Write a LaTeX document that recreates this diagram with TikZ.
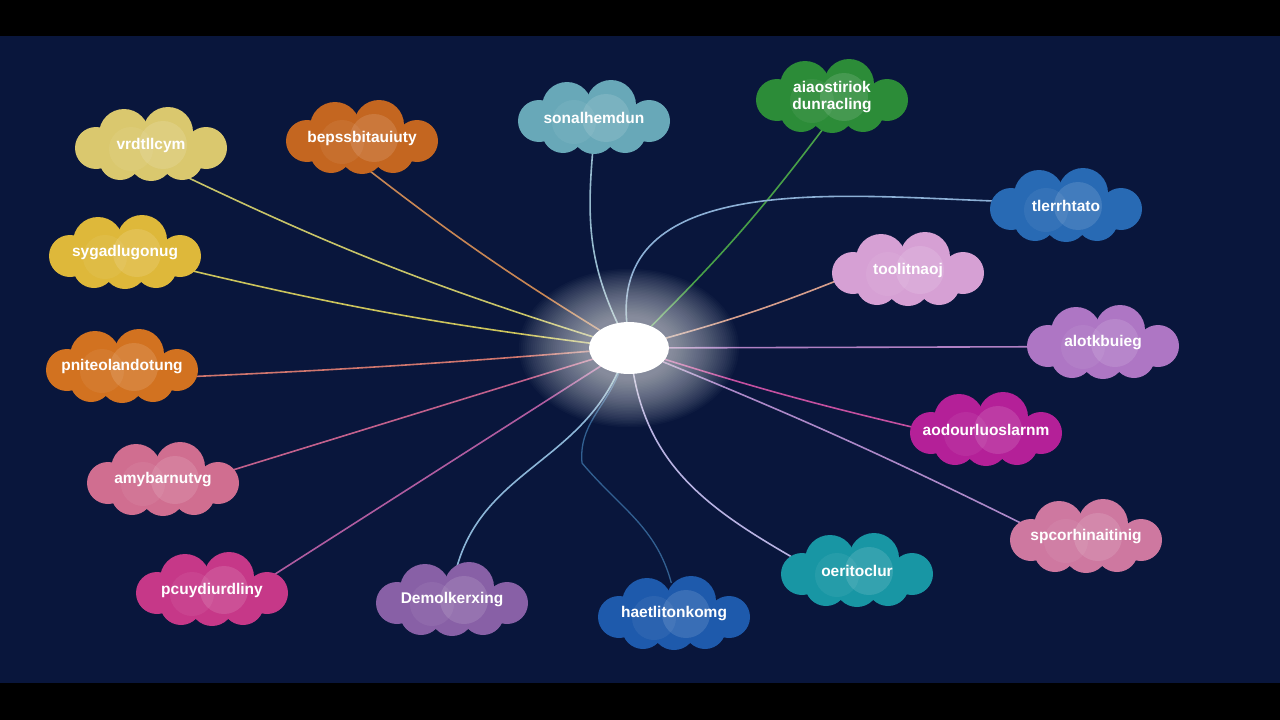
\documentclass[tikz,border=0pt]{standalone}
\usepackage{fontspec}
\setmainfont{Liberation Sans}
\usetikzlibrary{shapes.geometric}
\pgfdeclarelayer{background}
\pgfsetlayers{background,main}
\definecolor{bgnavy}{RGB}{9,22,60}
\definecolor{cYelLight}{RGB}{218,200,110}
\definecolor{cOrange}{RGB}{196,102,32}
\definecolor{cTealGray}{RGB}{104,168,184}
\definecolor{cGreen}{RGB}{44,140,56}
\definecolor{cBlue}{RGB}{40,106,180}
\definecolor{cLilac}{RGB}{214,160,212}
\definecolor{cPurpLilac}{RGB}{174,118,196}
\definecolor{cMagenta}{RGB}{180,32,152}
\definecolor{cRose}{RGB}{206,120,160}
\definecolor{cTeal}{RGB}{24,150,164}
\definecolor{cBlueDeep}{RGB}{30,90,172}
\definecolor{cPurple}{RGB}{136,96,166}
\definecolor{cMagPink}{RGB}{198,56,136}
\definecolor{cPink}{RGB}{208,110,144}
\definecolor{cOrange2}{RGB}{210,114,32}
\definecolor{cYellow}{RGB}{222,184,58}
\definecolor{l1}{RGB}{200,196,104}
\definecolor{l2}{RGB}{200,134,84}
\definecolor{l3}{RGB}{150,186,206}
\definecolor{l4}{RGB}{72,160,72}
\definecolor{l5}{RGB}{140,176,214}
\definecolor{l6}{RGB}{214,158,140}
\definecolor{l7}{RGB}{176,128,196}
\definecolor{l8}{RGB}{196,80,160}
\definecolor{l9}{RGB}{172,136,200}
\definecolor{l10}{RGB}{184,178,226}
\definecolor{l11}{RGB}{50,96,146}
\definecolor{l12}{RGB}{140,182,216}
\definecolor{l13}{RGB}{176,92,160}
\definecolor{l14}{RGB}{194,96,140}
\definecolor{l15}{RGB}{208,118,110}
\definecolor{l16}{RGB}{204,196,92}
\tikzset{
  x=1pt, y=-1pt,
  cloudbody/.style={ellipse, minimum width=144pt, minimum height=62pt, inner sep=0pt},
  cloudtext/.style={text=white, font=\fontsize{15.5}{17.5}\selectfont\bfseries, align=center, inner sep=0pt},
  puff/.style={fill=#1},
  sheen/.style={fill=white, opacity=#1},
  link/.style={draw=#1, line width=1.6pt, line cap=round},
  hubnode/.style={ellipse, fill=white, minimum width=80pt, minimum height=52pt, inner sep=0pt}
}
% cloud: name, x, y, colour, text
\newcommand\cloudat[5]{%
  \begin{scope}[shift={(#2,#3)}]
    \fill[puff=#4] (-50,-4) rectangle (50,20);
    \fill[puff=#4] (-55,3) circle (21);
    \fill[puff=#4] (55,3) circle (21);
    \fill[puff=#4] (-27,-11) circle (25);
    \fill[puff=#4] (17,-13) circle (25);
    \fill[puff=#4] (-31,14) circle (21);
    \fill[puff=#4] (0,14) circle (22);
    \fill[puff=#4] (31,14) circle (21);
    \fill[sheen=0.12] (12,0) circle (24);
    \fill[sheen=0.06] (-20,4) circle (22);
  \end{scope}
  \node[cloudbody, label={[cloudtext]center:#5}] (#1) at (#2,#3) {};%
}
\begin{document}
\begin{tikzpicture}
\useasboundingbox (0,0) rectangle (1280,720);
\begin{pgfonlayer}{background}
  \fill[black] (0,0) rectangle (1280,720);
  \fill[bgnavy] (0,36) rectangle (1280,683);
\end{pgfonlayer}

% hub
\node[hubnode] (hub) at (629,348) {};

% clouds
\cloudat{c1}{151}{145}{cYelLight}{vrdtllcym}
\cloudat{c2}{362}{138}{cOrange}{bepssbitauiuty}
\cloudat{c3}{594}{118}{cTealGray}{sonalhemdun}
\cloudat{c4}{832}{97}{cGreen}{aiaostiriok\\dunracling}
\cloudat{c5}{1066}{206}{cBlue}{tlerrhtato}
\cloudat{c6}{908}{270}{cLilac}{toolitnaoj}
\cloudat{c7}{1103}{343}{cPurpLilac}{alotkbuieg}
\cloudat{c8}{986}{430}{cMagenta}{aodourluoslarnm}
\cloudat{c9}{1086}{537}{cRose}{spcorhinaitinig}
\cloudat{c10}{857}{571}{cTeal}{oeritoclur}
\cloudat{c11}{674}{614}{cBlueDeep}{haetlitonkomg}
\cloudat{c12}{452}{600}{cPurple}{Demolkerxing}
\cloudat{c13}{212}{590}{cMagPink}{pcuydiurdliny}
\cloudat{c14}{163}{480}{cPink}{amybarnutvg}
\cloudat{c15}{122}{367}{cOrange2}{pniteolandotung}
\cloudat{c16}{125}{253}{cYellow}{sygadlugonug}

% connectors
\begin{pgfonlayer}{background}
  \coordinate (k11) at (582,463);
  \draw[link=l1] (c1.-45) to[bend right=4] (hub);
  \draw[link=l2] (c2.-80) to[bend right=3] (hub);
  \draw[link=l3] (c3.-92) to[out=-95,in=115] (hub);
  \draw[link=l4] (c4.-105) to[bend left=4] (hub);
  \draw[link=l5] (c5.176) to[out=178,in=95] (hub);
  \draw[link=l6] (c6.188) to[bend left=3] (hub);
  \draw[link=l7] (c7.183) to (hub);
  \draw[link=l8] (c8.178) to[bend left=2] (hub);
  \draw[link=l9] (c9.168) to[bend right=2] (hub);
  \draw[link=l10] (c10.168) to[out=150,in=-80] (hub);
  \draw[draw=l11, line width=1.3pt] (c11.95) to[out=105,in=-50] (k11) to[out=95,in=-112] (hub);
  \draw[link=l12] (c12.82) to[out=75,in=-115] (hub);
  \draw[link=l13] (c13.14) to (hub);
  \draw[link=l14] (c14.8) to (hub);
  \draw[link=l15] (c15.-8) to[bend right=1] (hub);
  \draw[link=l16] (c16.-15) to[bend right=3] (hub);
  % glow around hub
  \foreach \r in {44,46,...,110} {
    \fill[white,opacity=0.024] (hub.center) ellipse ({\r pt} and {0.72*\r pt});
  }
\end{pgfonlayer}
\end{tikzpicture}
\end{document}
